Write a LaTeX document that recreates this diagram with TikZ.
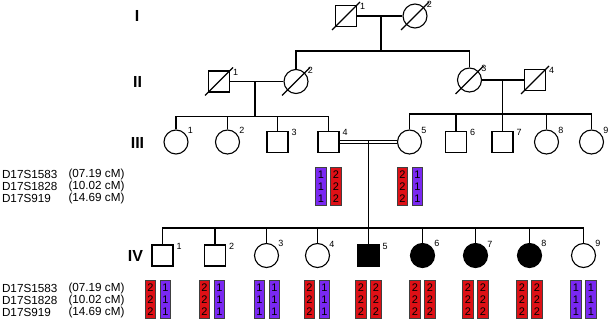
\documentclass[tikz,border=0pt]{standalone}
\usepackage{fontspec}
\setmainfont{Liberation Sans}
\definecolor{hred}{RGB}{222,16,22}
\definecolor{hpur}{RGB}{122,40,242}
\begin{document}
\begin{tikzpicture}[
  x=1pt, y=-1pt, line width=1.1pt,
  num/.style={font=\fontsize{9}{9}\selectfont, inner sep=1pt},
  male/.style={draw, minimum size=21pt, inner sep=0pt,
    label={[num,anchor=west,xshift=1.5pt,yshift=-1.5pt]north east:#1}},
  female/.style={draw, circle, minimum size=24pt, inner sep=0pt,
    label={[num,anchor=south west,xshift=1.5pt,yshift=-2pt]45:#1}},
  gen/.style={font=\fontsize{16}{16}\selectfont\bfseries},
  mk/.style={font=\fontsize{11.7}{12}\selectfont, align=left,
    inner sep=1.5pt, anchor=west},
  hap/.style={draw=black!75, line width=0.9pt, minimum width=10.5pt,
    minimum height=38.5pt, inner sep=0pt, align=center,
    font=\fontsize{11}{12}\selectfont},
  al1/.style={hap, fill=hpur},
  al2/.style={hap, fill=hred}]
\useasboundingbox (0,0) rectangle (610,320);

% generation numbers
\node[gen] (gI) at (137,16) {I};
\node[gen] (gII) at (137.5,82) {II};
\node[gen] (gIII) at (137.5,143) {III};
\node[gen] (gIV) at (135.5,255.5) {IV};

% generation I
\node[male=1] (I1) at (346,16) {};
\node[female=2] (I2) at (415,16) {};
\coordinate (m1) at (381,16);
\coordinate (s1) at (381,51);
\draw (I1) -- (I2);
\draw (m1) -- (s1);

% generation II
\node[male=1] (II1) at (219,81.5) {};
\node[female=2] (II2) at (296,81.5) {};
\node[female=3] (II3) at (469.5,80) {};
\node[male=4] (II4) at (535,80) {};
\draw (II2) |- (s1) -| (II3);
\coordinate (m2) at (255,81.5);
\coordinate (s2) at (255,116.5);
\draw (II1) -- (II2);
\draw (m2) -- (s2);
\coordinate (m3) at (502.5,80);
\coordinate (s3) at (502.5,114);
\draw (II3) -- (II4);
\draw (m3) -- (s3);
\foreach \p in {I1,I2,II1,II2,II3,II4}
  \draw ([shift={(-14,14)}]\p.center) -- ([shift={(14,-14)}]\p.center);

% generation III
\node[female=1] (III1) at (176,142) {};
\node[female=2] (III2) at (227.5,142) {};
\node[male=3] (III3) at (277.5,142) {};
\node[male=4] (III4) at (328.5,142) {};
\node[female=5] (III5) at (409.5,142) {};
\node[male=6] (III6) at (456,142) {};
\node[male=7] (III7) at (502.5,142) {};
\node[female=8] (III8) at (546.5,142) {};
\node[female=9] (III9) at (591.5,142) {};
\foreach \c in {III1,III2,III3,III4} \draw (\c) |- (s2);
\foreach \c in {III5,III6,III7,III8,III9} \draw (\c) |- (s3);
% consanguineous marriage
\draw[line width=0.9pt] ([yshift=1.4pt]III4.east) -- ([yshift=1.4pt]III5.west);
\draw[line width=0.9pt] ([yshift=-1.2pt]III4.east) -- ([yshift=-1.2pt]III5.west);
\coordinate (m4) at (368.3,141);
\coordinate (s4) at (368.3,228);
\draw (m4) -- (s4);

% generation IV
\foreach \x/\s/\a [count=\i] in {162.5/male/white, 215/male/white,
    266.5/female/white, 317.5/female/white, 368.5/male/black,
    422.5/female/black, 475.5/female/black, 529.5/female/black,
    583.5/female/white} {
  \node[\s=\i, fill=\a] (IV\i) at (\x,255.5) {};
  \draw (IV\i) |- (s4);
}

% haplotypes
\node[mk] (mkIII) at (0,186) {D17S1583\\D17S1828\\D17S919};
\node[mk] (cmIII) at (66.5,186) {(07.19 cM)\\(10.02 cM)\\(14.69 cM)};
\node[mk] (mkIV) at (0,300.5) {D17S1583\\D17S1828\\D17S919};
\node[mk] (cmIV) at (66.5,300.5) {(07.19 cM)\\(10.02 cM)\\(14.69 cM)};
\node[al1] (hIII4-1) at (321,186.5) {1\\1\\1};
\node[al2] (hIII4-2) at (336,186.5) {2\\2\\2};
\node[al2] (hIII5-1) at (402.5,186.5) {2\\2\\2};
\node[al1] (hIII5-2) at (417.5,186.5) {1\\1\\1};
\foreach \x/\l/\r [count=\i] in {158/2/1, 212/2/1, 267/1/1, 317/2/1,
    368.5/2/2, 422.5/2/2, 475.5/2/2, 529.5/2/2, 583.5/1/1} {
  \node[al\l] (hIV\i-1) at (\x-7.5,299.5) {\l\\\l\\\l};
  \node[al\r] (hIV\i-2) at (\x+7.5,299.5) {\r\\\r\\\r};
}
\end{tikzpicture}
\end{document}
